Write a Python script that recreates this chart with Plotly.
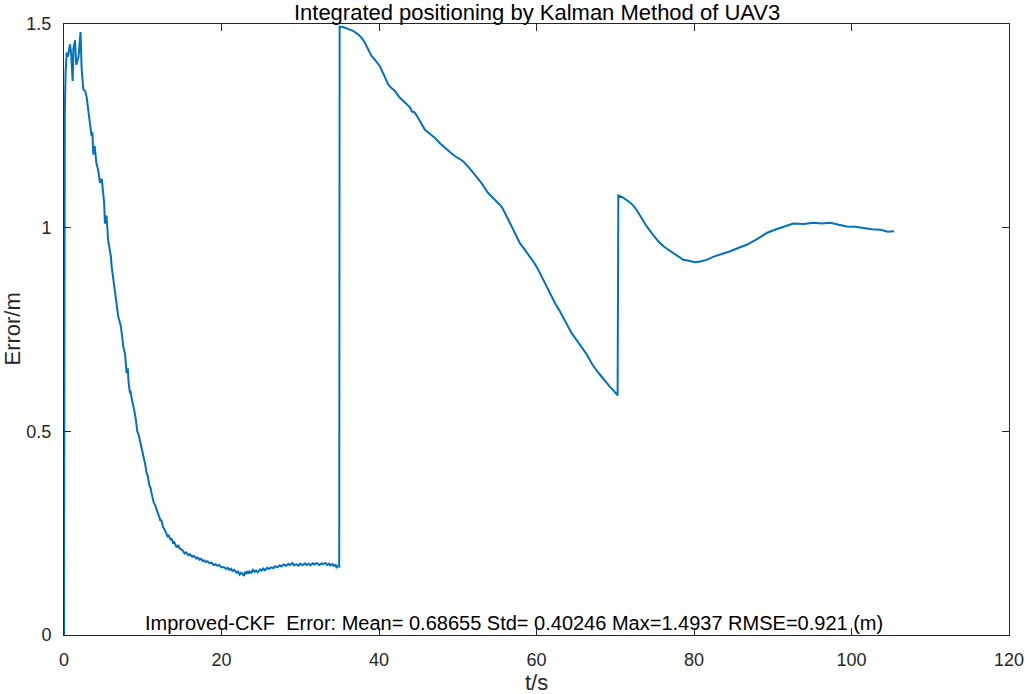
import plotly.graph_objects as go

# error curve (t in s, error in m), in three stretches

# 0 - 35 s: fast rise, decay, noisy floor
t_first = [
    0.0, 0.04, 0.1, 0.2, 0.34, 0.5, 0.76, 0.9, 1.1, 1.2, 1.4, 1.55, 1.7, 1.85,
    2.1, 2.24, 2.45, 2.7, 2.88, 3.2, 3.5, 3.6, 3.72, 3.9, 4.1, 4.35, 4.57, 4.8,
    4.99, 5.1, 5.2, 5.4, 5.6, 5.8, 5.95, 6.05, 6.26, 6.47, 6.7, 6.9, 7.05, 7.2,
    7.4, 7.53, 7.75, 7.95, 8.1, 8.2, 8.38, 8.45, 8.6, 8.8, 9.0, 9.15, 9.3, 9.5,
    9.65, 9.85, 10.07, 10.2, 10.3, 10.5, 10.65, 10.8, 11.0, 11.13, 11.3, 11.4,
    11.6, 11.76, 11.9, 12.1, 12.25, 12.35, 12.6, 12.8, 13.0, 13.15, 13.3, 13.5,
    13.67, 13.85, 14.0, 14.15, 14.3, 14.5, 14.7, 14.9, 15.1, 15.3, 15.5, 15.8,
    16.0, 16.3, 16.5, 16.8, 17.0, 17.2, 17.4, 17.6, 17.8, 18.0, 18.2, 18.5,
    18.7, 19.0, 19.2, 19.5, 19.7, 20.0, 20.3, 20.6, 20.8, 21.0, 21.2, 21.4,
    21.6, 21.9, 22.1, 22.3, 22.5, 22.7, 22.85, 23.0, 23.15, 23.3, 23.45, 23.6,
    23.8, 24.0, 24.2, 24.4, 24.6, 24.9, 25.1, 25.3, 25.5, 25.8, 26.0, 26.3,
    26.6, 26.8, 27.1, 27.4, 27.6, 27.9, 28.2, 28.5, 28.7, 29.0, 29.2, 29.5,
    29.8, 30.0, 30.3, 30.6, 30.8, 31.1, 31.3, 31.6, 31.8, 32.1, 32.4, 32.7,
    32.9, 33.2, 33.4, 33.7, 33.8, 34.1, 34.2, 34.5, 34.6, 34.8, 34.95,
]
err_first = [
    0.0, 0.76, 1.28, 1.38, 1.43, 1.42, 1.45, 1.43, 1.36, 1.44, 1.46, 1.40,
    1.41, 1.42, 1.48, 1.39, 1.34, 1.335, 1.32, 1.27, 1.225, 1.235, 1.18, 1.2,
    1.16, 1.14, 1.11, 1.12, 1.085, 1.06, 1.01, 1.03, 0.97, 0.95, 0.93, 0.905,
    0.872, 0.84, 0.81, 0.78, 0.77, 0.76, 0.73, 0.708, 0.69, 0.643, 0.655,
    0.62, 0.593, 0.60, 0.58, 0.565, 0.544, 0.525, 0.50, 0.49, 0.478, 0.455,
    0.437, 0.43, 0.42, 0.396, 0.39, 0.37, 0.36, 0.347, 0.335, 0.325, 0.318,
    0.305, 0.30, 0.29, 0.28, 0.283, 0.264, 0.258, 0.25, 0.242, 0.244, 0.235,
    0.236, 0.226, 0.228, 0.22, 0.215, 0.221, 0.212, 0.21, 0.207, 0.20, 0.203,
    0.196, 0.198, 0.192, 0.194, 0.188, 0.19, 0.185, 0.187, 0.182, 0.183,
    0.179, 0.181, 0.176, 0.178, 0.172, 0.174, 0.170, 0.172, 0.166, 0.167,
    0.162, 0.165, 0.160, 0.163, 0.157, 0.160, 0.153, 0.156, 0.148, 0.153,
    0.150, 0.145, 0.155, 0.150, 0.157, 0.151, 0.156, 0.153, 0.160, 0.155,
    0.158, 0.154, 0.161, 0.158, 0.163, 0.159, 0.165, 0.162, 0.166, 0.164,
    0.169, 0.166, 0.171, 0.168, 0.173, 0.170, 0.175, 0.172, 0.177, 0.171,
    0.174, 0.170, 0.175, 0.171, 0.176, 0.172, 0.175, 0.171, 0.176, 0.173,
    0.177, 0.172, 0.176, 0.174, 0.177, 0.172, 0.175, 0.171, 0.174, 0.170,
    0.172, 0.166, 0.169, 0.168,
]

# 35 - 70.3 s: after the first reset
t_second = [
    35.0, 35.5, 36.06, 36.7, 37.33, 37.8, 38.18, 38.6, 39.03, 39.5, 40.09,
    40.6, 41.15, 41.5, 42.0, 42.6, 43.27, 43.9, 44.2, 44.54, 45.2, 45.81,
    46.4, 47.08, 47.7, 48.35, 49.0, 49.62, 50.1, 50.68, 51.4, 52.17, 53.0,
    53.86, 54.7, 55.56, 56.0, 56.62, 57.2, 57.89, 58.5, 59.16, 59.7, 60.22,
    60.8, 61.28, 61.8, 62.34, 62.9, 63.4, 63.9, 64.46, 65.1, 65.73, 66.4,
    67.0, 67.6, 68.28, 68.8, 69.33, 69.8, 70.18, 70.3,
]
err_second = [
    1.4937, 1.492, 1.488, 1.483, 1.475, 1.466, 1.455, 1.440, 1.422, 1.412,
    1.397, 1.376, 1.352, 1.344, 1.336, 1.320, 1.307, 1.296, 1.285, 1.283,
    1.262, 1.241, 1.231, 1.221, 1.208, 1.196, 1.186, 1.176, 1.170, 1.163,
    1.148, 1.131, 1.110, 1.085, 1.068, 1.052, 1.036, 1.012, 0.990, 0.962,
    0.946, 0.929, 0.914, 0.897, 0.874, 0.855, 0.836, 0.815, 0.797, 0.778,
    0.760, 0.741, 0.724, 0.708, 0.688, 0.667, 0.650, 0.634, 0.621, 0.609,
    0.600, 0.591, 0.588,
]

# 70.4 - 105.4 s: after the second reset
t_third = [
    70.39, 70.9, 71.66, 72.2, 72.7, 73.3, 74.0, 74.7, 75.5, 76.2, 77.0, 77.8,
    78.65, 79.5, 80.1, 80.8, 81.6, 82.5, 83.5, 84.6, 85.6, 86.7, 88.0, 89.25,
    90.0, 90.9, 91.8, 92.6, 93.9, 95.2, 96.2, 97.3, 98.4, 99.4, 100.5, 101.5,
    102.6, 103.7, 104.6, 105.4,
]
err_third = [
    1.079, 1.075, 1.065, 1.056, 1.044, 1.025, 1.003, 0.985, 0.966, 0.953,
    0.942, 0.931, 0.921, 0.918, 0.915, 0.917, 0.921, 0.929, 0.935, 0.942,
    0.950, 0.958, 0.972, 0.987, 0.993, 0.999, 1.006, 1.010, 1.009, 1.012,
    1.010, 1.012, 1.007, 1.003, 1.002, 0.999, 0.996, 0.995, 0.990, 0.991,
]

x_ticks = [0, 20, 40, 60, 80, 100, 120]
y_ticks = [0, 0.5, 1, 1.5]
stats_text = "Improved-CKF  Error: Mean= 0.68655 Std= 0.40246 Max=1.4937 RMSE=0.921 (m)"

axis_color = "#262626"
font_name = "Liberation Sans, Arial, sans-serif"

fig = go.Figure()
fig.add_trace(go.Scatter(
    x=t_first + t_second + t_third,
    y=err_first + err_second + err_third,
    mode="lines",
    line=dict(color="#0072BD", width=2),
    showlegend=False,
))

axis_common = dict(
    showline=True, linecolor=axis_color, linewidth=1, mirror="ticks",
    ticks="inside", ticklen=7, tickcolor=axis_color, tickwidth=1,
    showgrid=False, zeroline=False, automargin=False,
    tickfont=dict(family=font_name, size=18, color=axis_color),
)
fig.update_xaxes(range=[0, 120], tickvals=x_ticks, ticklabelstandoff=8, **axis_common)
fig.update_yaxes(range=[0, 1.5], tickvals=y_ticks, ticklabelstandoff=8, **axis_common)

fig.add_annotation(
    x=10, y=0.0296, xref="x", yref="y", text=stats_text, showarrow=False,
    xanchor="left", yanchor="middle",
    font=dict(family=font_name, size=20, color="black"),
)
fig.add_annotation(
    x=0.5, y=-0.078, xref="paper", yref="paper", text="t/s", showarrow=False,
    xanchor="center", yanchor="middle",
    font=dict(family=font_name, size=22, color=axis_color),
)
fig.add_annotation(
    x=-0.055, y=0.5, xref="paper", yref="paper", text="Error/m", showarrow=False,
    textangle=-90, xanchor="center", yanchor="middle",
    font=dict(family=font_name, size=22, color=axis_color),
)

fig.update_layout(
    width=1025, height=694, autosize=False,
    margin=dict(l=64, r=16, t=24, b=59),
    paper_bgcolor="white", plot_bgcolor="white",
    title=dict(
        text="Integrated positioning by Kalman Method of UAV3",
        x=0.524, xanchor="center", y=0.983, yanchor="middle",
        font=dict(family=font_name, size=22, color="black"),
    ),
)

# drop the page's default body margin so the figure sits at the window corner
fig.write_html(
    "out.html",
    config={"displayModeBar": False},
    post_script="document.body.style.margin='0';document.body.style.overflow='hidden';",
)
